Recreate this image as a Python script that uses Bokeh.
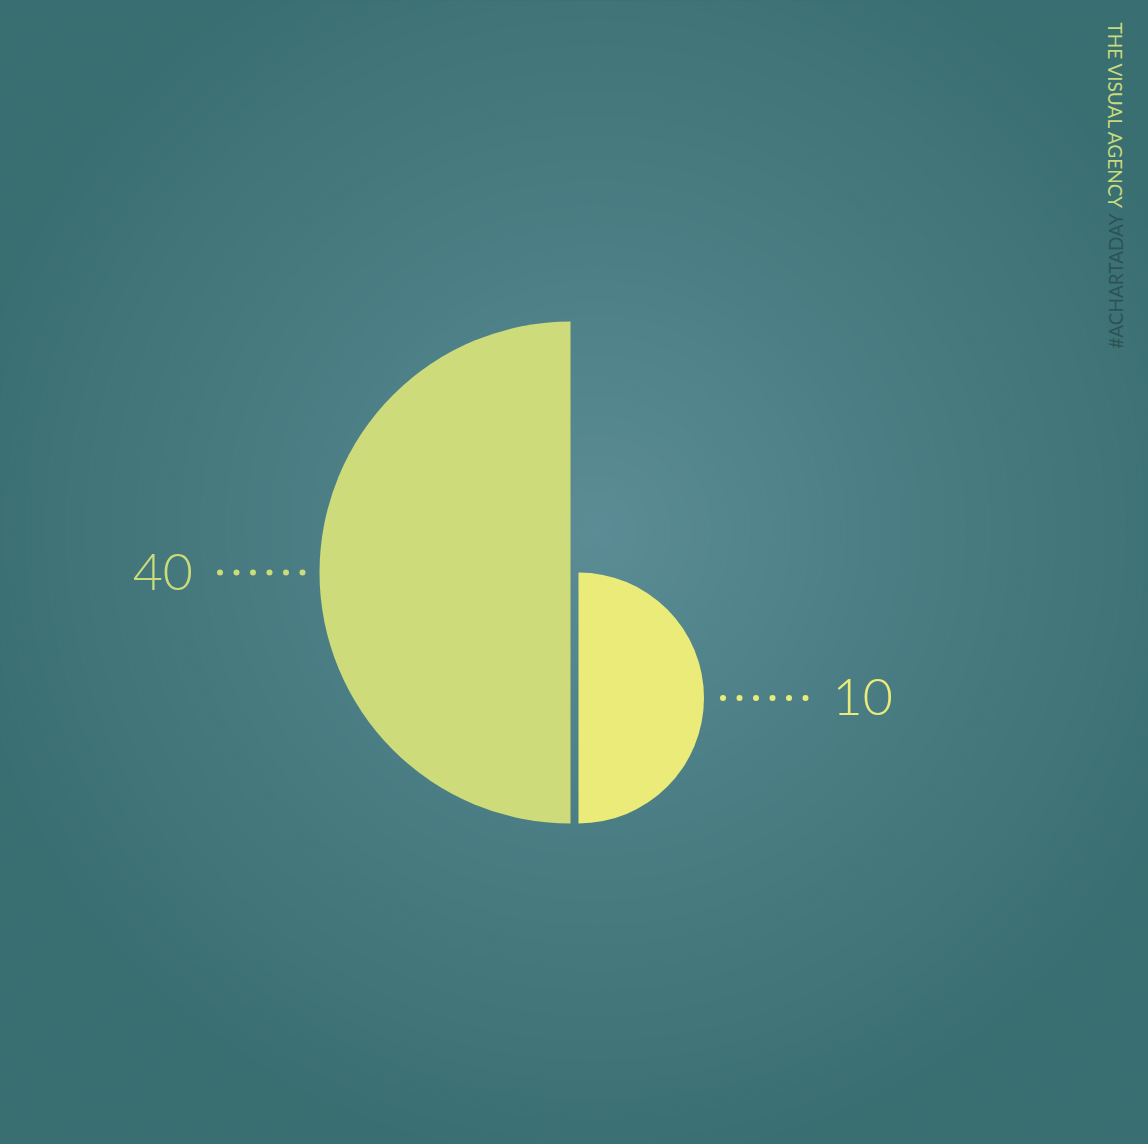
import numpy as np
from bokeh.plotting import figure
from bokeh.models import Range1d
from bokeh.core.properties import value
from bokeh.embed import file_html
from bokeh.resources import INLINE

# ---- data ----
values = [40, 10]
labels = ["40", "10"]
colors = ["#CDDB7B", "#EBEB7A"]
brand = ["THE VISUAL AGENCY", "#ACHARTADAY"]
brand_colors = ["#C8DA7C", "#2B5355"]

W, H = 1148, 1144
p = figure(width=W, height=H, x_range=Range1d(0, W), y_range=Range1d(H, 0),
           output_backend="svg", toolbar_location=None,
           x_axis_type=None, y_axis_type=None, min_border=0)
p.outline_line_color = None
p.background_fill_color = "#3A6F72"
p.border_fill_color = "#3A6F72"

# ---- radial gradient background ----
gx, gy = 595, 530
c_in = np.array([92, 141, 150])
c_out = np.array([58, 111, 114])
radii = np.arange(820, 0, -5)
cols = []
for r in radii:
    t = min(r / 640.0, 1.0) ** 0.9
    c = c_in + (c_out - c_in) * t
    cols.append("#%02x%02x%02x" % tuple(int(round(v)) for v in c))
p.circle(x=[gx] * len(radii), y=[gy] * len(radii), radius=radii,
         fill_color=cols, line_color=None)

# ---- half discs (area proportional to value) ----
k = 251.0 / np.sqrt(max(values))
r_big = k * np.sqrt(values[0])
r_small = k * np.sqrt(values[1])
cx_big, cy_big = 570.0, 572.0
cx_small = cx_big + 8
cy_small = cy_big + r_small

p.wedge(x=[cx_big], y=[cy_big], radius=[r_big], start_angle=np.pi / 2,
        end_angle=3 * np.pi / 2, fill_color=colors[0], line_color=None)
p.wedge(x=[cx_small], y=[cy_small], radius=[r_small], start_angle=-np.pi / 2,
        end_angle=np.pi / 2, fill_color=colors[1], line_color=None)

# ---- leader dots ----
n = 6
sp = 16.5
big_dots_x = [cx_big - r_big - 17 - i * sp for i in range(n)]
small_dots_x = [cx_small + r_small + 19 + i * sp for i in range(n)]
p.scatter(x=big_dots_x, y=[cy_big] * n, size=6, fill_color=colors[0], line_color=None)
p.scatter(x=small_dots_x, y=[cy_small] * n, size=6, fill_color=colors[1], line_color=None)

# ---- value labels ----
p.text(x=[min(big_dots_x) - 27], y=[cy_big - 1], text=[labels[0]],
       text_color=colors[0], text_font=value("Lato Light"), text_font_size="52px",
       text_align="right", text_baseline="alphabetic")
p.text(x=[max(small_dots_x) + 27], y=[cy_small - 1], text=[labels[1]],
       text_color=colors[1], text_font=value("Lato Light"), text_font_size="52px",
       text_align="left", text_baseline="alphabetic")

# ---- vertical brand text ----
p.text(x=[1115], y=[22], text=[brand[0]], angle=-np.pi / 2,
       text_color=brand_colors[0], text_font=value("Lato"), text_font_size="19px",
       text_align="left", text_baseline="middle")
p.text(x=[1115], y=[213], text=[brand[1]], angle=np.pi / 2,
       text_color=brand_colors[1], text_font=value("Lato"), text_font_size="19px",
       text_align="right", text_baseline="middle")

html = file_html(p, INLINE, title="chart")
style = "<style>html,body{margin:0;padding:0;background:#3A6F72;overflow:hidden;}</style>"
html = html.replace("<head>", "<head>" + style, 1)
open("out.html", "w").write(html)
